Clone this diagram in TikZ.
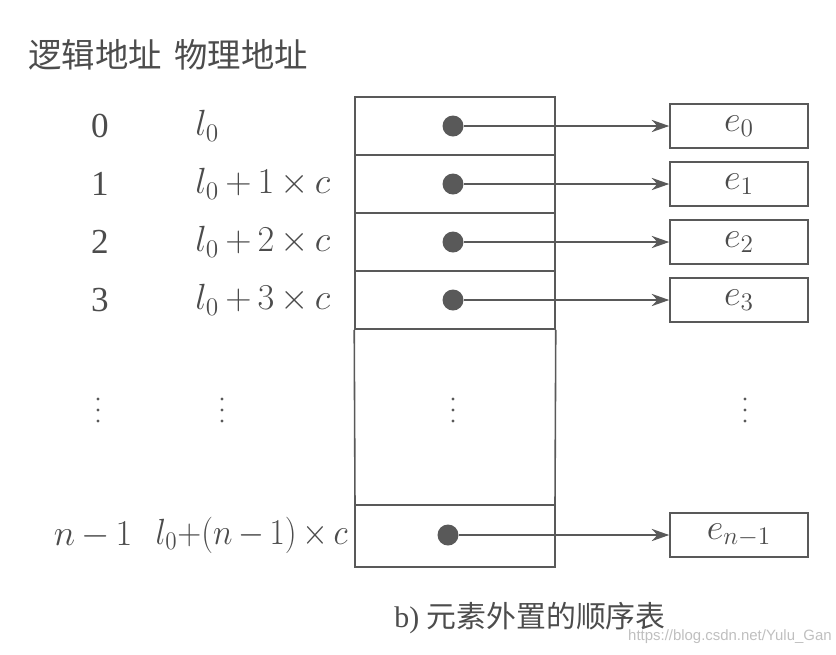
\documentclass[tikz,border=0pt]{standalone}
\usepackage{graphicx}
\usepackage{fontspec}
\setmainfont{Liberation Serif}
\newfontfamily\cjkfont{Noto Sans CJK SC}
\newfontfamily\wmfont{Liberation Sans}
\usetikzlibrary{arrows.meta}
\newcommand\addrmath{\medmuskip=3mu\relax}

\begin{document}
\begin{tikzpicture}[x=0.02cm,y=-0.02cm,
    cell/.style={draw=black!65,line width=0.9pt,minimum width=4cm,minimum height=1.16cm,inner sep=0pt},
    elem/.style={draw=black!65,line width=0.9pt,minimum width=2.76cm,minimum height=0.88cm,inner sep=0pt,
        text=black!70,font=\fontsize{20}{24}\selectfont},
    ptr/.style={circle,fill=black!65,minimum size=0.42cm,inner sep=0pt},
    link/.style={draw=black!65,line width=0.9pt,-{Stealth[length=10pt,width=7pt]}},
    lbl/.style={text=black!70,inner sep=0pt,font=\fontsize{20}{24}\selectfont\addrmath},
    head/.style={text=black!70,inner sep=0pt,anchor=west,font=\cjkfont\fontsize{19}{22}\selectfont}]

\useasboundingbox (0,0) rectangle (836,654);

% column headings
\node[head] (hlog) at (28,55) {逻辑地址};
\node[head] (hphy) at (174,55) {物理地址};

% table of pointers and the elements they point to
\foreach \i/\y in {0/126, 1/184, 2/242, 3/300}{
    \node[cell] (r\i) at (455,\y) {};
    \node[ptr] (p\i) at (453,\y) {};
    \node[elem] (e\i) at (739,\y) {$e_{\i}$};
    \draw[link] (p\i) -- (e\i);
    \node[lbl] (n\i) at (100,\y) {\i};
}
\draw[black!65,line width=0.9pt] (r3.south west) -- (355,505) (r3.south east) -- (555,505);
\node[cell,minimum height=1.24cm] (rn) at (455,536) {};
\node[ptr] (pn) at (448,535) {};
\node[elem] (en) at (739,535) {$e_{n-1}$};
\draw[link] (pn) -- (en);

% physical addresses
\node[lbl,anchor=west] (a0) at (195,126) {$l_0$};
\foreach \i/\y in {1/184, 2/242, 3/300}{
    \node[lbl,anchor=west] (a\i) at (195,\y) {$l_0+\i\times c$};
}
\node[lbl] (nn) at (93,535) {$n-1$};
\node[lbl,anchor=east] (an) at (348,535) {\resizebox{3.84cm}{\height}{$l_0{+}(n-1)\times c$}};

% dots
\foreach \x in {98, 222, 453, 745}{
    \foreach \y in {399, 410, 421}{
        \fill[black!65] (\x,\y) circle (1.6);
    }
}

% caption
\node[text=black!70,inner sep=0pt,font=\fontsize{17}{20}\selectfont] (cap) at (530,618)
    {b) {\cjkfont 元素外置的顺序表}};
\node[text=black!25,inner sep=0pt,anchor=east,font=\wmfont\fontsize{8.5}{10}\selectfont] (wm) at (832,637)
    {https://blog.csdn.net/Yulu\_Gan};

\end{tikzpicture}
\end{document}
